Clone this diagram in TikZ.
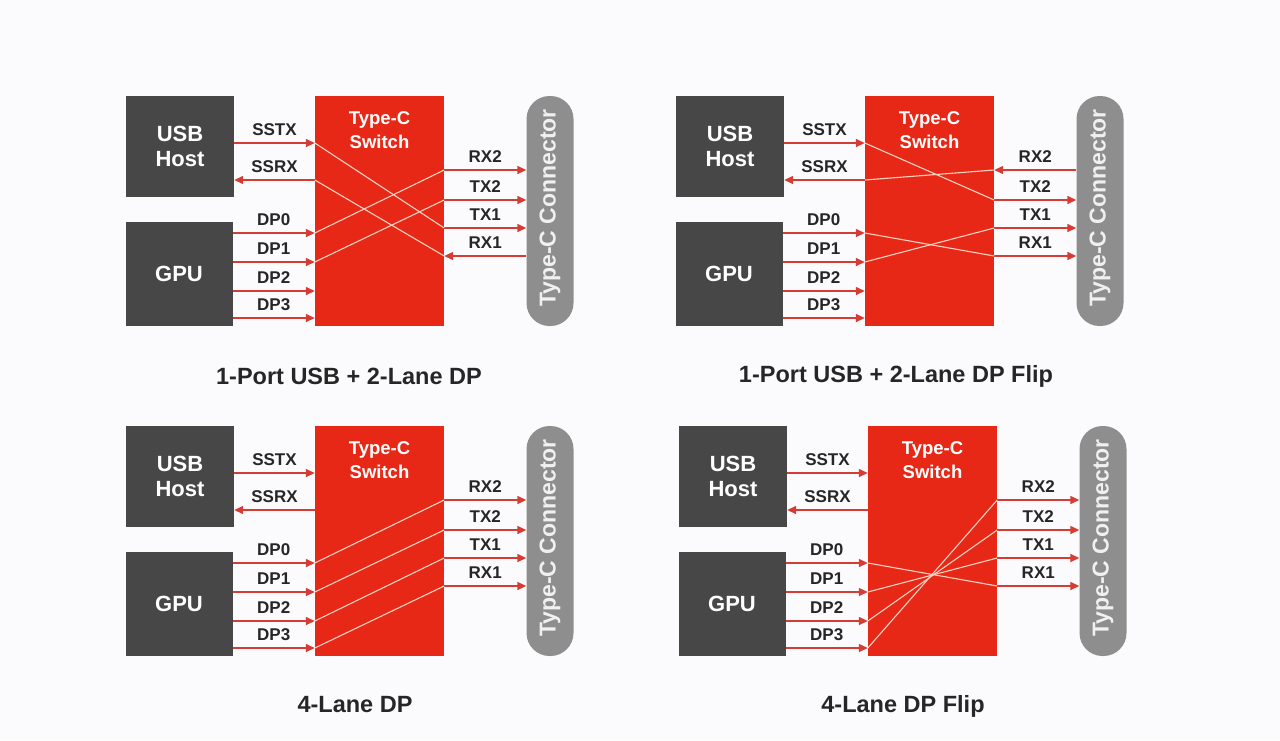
\documentclass[tikz,border=0pt]{standalone}
\usepackage{fontspec}
\setmainfont{Liberation Sans}
\usetikzlibrary{arrows.meta,positioning}

\definecolor{boxgray}{RGB}{71,71,71}
\definecolor{swred}{RGB}{232,40,22}
\definecolor{sigred}{RGB}{214,60,52}
\definecolor{conngray}{RGB}{142,142,142}
\definecolor{conntext}{RGB}{240,240,240}
\definecolor{xwhite}{RGB}{250,208,192}
\definecolor{bgc}{RGB}{251,251,253}

\tikzset{
  blk/.style={fill=boxgray, text=white, font=\fontsize{22}{25}\selectfont\bfseries, align=center, inner sep=0pt},
  swbox/.style={fill=swred, minimum width=129pt, minimum height=230pt, inner sep=0pt},
  swlbl/.style={text=white, font=\fontsize{18.5}{24}\selectfont\bfseries, align=center, inner sep=0pt},
  connbox/.style={fill=conngray, rounded corners=23pt, minimum width=47pt, minimum height=230pt, inner sep=0pt},
  conntxt/.style={text=conntext, rotate=90, font=\fontsize{23}{26}\selectfont\bfseries, inner sep=0pt},
  sig/.style={draw=sigred, line width=1.4pt, -{Triangle[length=9pt,width=8pt]}},
  lane/.style={midway, above=7pt, inner sep=0pt, text=black!85, font=\fontsize{17}{20}\selectfont\bfseries},
  xline/.style={draw=xwhite, line width=1.1pt},
  capt/.style={text=black!85, font=\fontsize{23.5}{28}\selectfont\bfseries, inner sep=0pt},
}

% host, gpu, switch, connector and the left side lanes of one panel
\newcommand{\typecblocks}[1]{%
  \node[blk, minimum width=108pt, minimum height=101pt] (#1-host) at (180,146.5) {USB\\Host};
  \node[blk, minimum width=107pt, minimum height=104pt] (#1-gpu) at (179,274) {GPU};
  \node[swbox] (#1-sw) at (379.5,211) {};
  \node[swlbl, below=16pt of #1-sw.north] (#1-swl) {Type-C\\Switch};
  \node[connbox] (#1-conn) at (550,211) {};
  \node[conntxt] (#1-connl) at ([yshift=3pt]#1-conn.center) {Type-C Connector};
  \foreach \n/\y in {1/143,2/180,3/233,4/262,5/291,6/318}
    \coordinate (#1-l\n) at (#1-sw.west |- 0,\y);
  \foreach \n/\y in {1/170,2/200,3/228,4/256} {
    \coordinate (#1-r\n) at (#1-sw.east |- 0,\y);
    \coordinate (#1-c\n) at (#1-conn.west |- 0,\y);
  }
  \draw[sig] (#1-host.east |- #1-l1) -- (#1-l1) node[lane] {SSTX};
  \draw[sig] (#1-l2) -- (#1-host.east |- #1-l2) node[lane] {SSRX};
  \foreach \n/\t in {3/DP0,4/DP1,5/DP2,6/DP3}
    \draw[sig] (#1-gpu.east |- #1-l\n) -- (#1-l\n) node[lane] {\t};
}

\begin{document}
\begin{tikzpicture}[x=1pt, y=-1pt]
  \fill[bgc] (0,0) rectangle (1280,740);
  \useasboundingbox (0,0) rectangle (1280,740);

  % 1-Port USB + 2-Lane DP
  \begin{scope}
    \typecblocks{a}
    \foreach \n/\t/\f/\e in {1/RX2/r/c,2/TX2/r/c,3/TX1/r/c,4/RX1/c/r}
      \draw[sig] (a-\f\n) -- (a-\e\n) node[lane] {\t};
    \draw[xline] (a-l1) -- (a-r3);
    \draw[xline] (a-l2) -- (a-r4);
    \draw[xline] (a-l3) -- (a-r1);
    \draw[xline] (a-l4) -- (a-r2);
  \end{scope}

  % 1-Port USB + 2-Lane DP Flip
  \begin{scope}[shift={(550,0)}]
    \typecblocks{b}
    \foreach \n/\t/\f/\e in {1/RX2/c/r,2/TX2/r/c,3/TX1/r/c,4/RX1/r/c}
      \draw[sig] (b-\f\n) -- (b-\e\n) node[lane] {\t};
    \draw[xline] (b-l1) -- (b-r2);
    \draw[xline] (b-l2) -- (b-r1);
    \draw[xline] (b-l3) -- (b-r4);
    \draw[xline] (b-l4) -- (b-r3);
  \end{scope}

  % 4-Lane DP
  \begin{scope}[shift={(0,330)}]
    \typecblocks{c}
    \foreach \n/\t in {1/RX2,2/TX2,3/TX1,4/RX1}
      \draw[sig] (c-r\n) -- (c-c\n) node[lane] {\t};
    \draw[xline] (c-l3) -- (c-r1);
    \draw[xline] (c-l4) -- (c-r2);
    \draw[xline] (c-l5) -- (c-r3);
    \draw[xline] (c-l6) -- (c-r4);
  \end{scope}

  % 4-Lane DP Flip
  \begin{scope}[shift={(553,330)}]
    \typecblocks{d}
    \foreach \n/\t in {1/RX2,2/TX2,3/TX1,4/RX1}
      \draw[sig] (d-r\n) -- (d-c\n) node[lane] {\t};
    \draw[xline] (d-l3) -- (d-r4);
    \draw[xline] (d-l4) -- (d-r3);
    \draw[xline] (d-l5) -- (d-r2);
    \draw[xline] (d-l6) -- (d-r1);
  \end{scope}

  \node[capt] (capa) at (349,376) {1-Port USB + 2-Lane DP};
  \node[capt] (capb) at (896,376) {1-Port USB + 2-Lane DP Flip};
  \node[capt] (capc) at (355,705) {4-Lane DP};
  \node[capt] (capd) at (903,706) {4-Lane DP Flip};
\end{tikzpicture}
\end{document}
